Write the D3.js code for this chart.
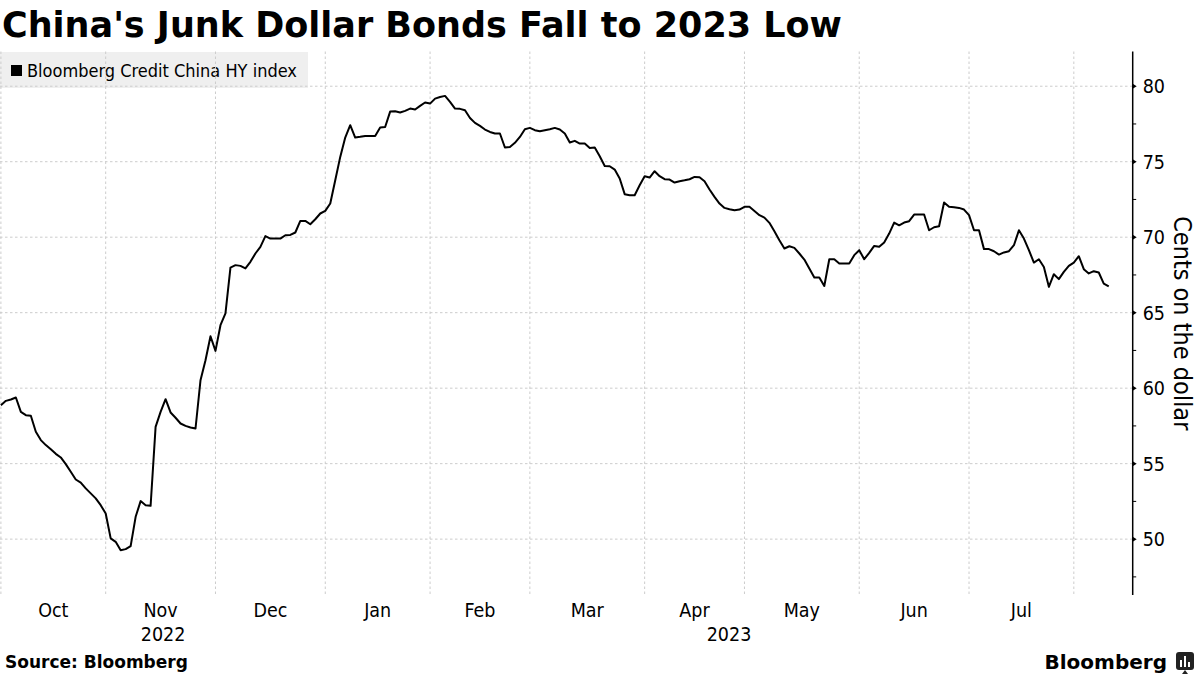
<!DOCTYPE html>
<html>
<head>
<meta charset="utf-8">
<script src="https://cdn.jsdelivr.net/npm/d3@7"></script>
<style>
  body { margin: 0; background: #fff; }
  svg { display: block; }
  text { font-family: "DejaVu Sans Condensed", "DejaVu Sans", sans-serif; fill: #000; }
</style>
</head>
<body>
<svg id="chart" width="1200" height="675"></svg>
<script>
// first trading day shown and days the index did not print
let firstDay = "2022-10-03";
let holidays = ["2023-01-02"];

// Bloomberg Credit China HY index, cents on the dollar, one value per trading day
let oct22 = [58.87, 59.16, 59.25, 59.38, 58.43, 58.21, 58.17, 57.11, 56.56, 56.23, 55.95,
  55.65, 55.41, 54.97, 54.46, 53.95, 53.75, 53.36, 53.03, 52.70, 52.25];
let nov22 = [51.70, 50.05, 49.82, 49.27, 49.34, 49.54, 51.48, 52.52, 52.25, 52.21, 57.44,
  58.43, 59.27, 58.39, 58.04, 57.66, 57.50, 57.40, 57.33, 60.53, 61.85, 63.44];
let dec22 = [62.47, 64.17, 64.95, 67.99, 68.15, 68.10, 67.93, 68.37, 68.92, 69.36, 70.07,
  69.91, 69.91, 69.91, 70.13, 70.15, 70.31, 71.08, 71.08, 70.86, 71.19, 71.57];
let jan23 = [71.74, 72.23, 73.77, 75.32, 76.60, 77.42, 76.60, 76.65, 76.71, 76.71, 76.71,
  77.26, 77.30, 78.32, 78.34, 78.26, 78.37, 78.52, 78.46, 78.70, 78.92];
let feb23 = [78.85, 79.18, 79.29, 79.36, 78.96, 78.52, 78.50, 78.41, 77.90, 77.57, 77.37,
  77.13, 76.97, 76.87, 76.87, 75.94, 75.98, 76.25, 76.64, 77.15];
let mar23 = [77.24, 77.09, 77.02, 77.09, 77.15, 77.24, 77.13, 76.87, 76.27, 76.38, 76.20,
  76.20, 75.91, 75.94, 75.36, 74.72, 74.70, 74.48, 73.89, 72.85, 72.78, 72.78, 73.44];
let apr23 = [74.04, 73.95, 74.37, 74.04, 73.84, 73.82, 73.62, 73.71, 73.77, 73.84, 73.99,
  73.97, 73.71, 73.16, 72.67, 72.23, 71.94, 71.85, 71.79, 71.83];
let may23 = [72.01, 72.01, 71.74, 71.46, 71.30, 70.95, 70.40, 69.80, 69.25, 69.40, 69.29,
  68.92, 68.52, 67.93, 67.33, 67.33, 66.77, 68.54, 68.54, 68.26, 68.26, 68.26, 68.81];
let jun23 = [69.14, 68.54, 68.96, 69.42, 69.36, 69.65, 70.24, 70.97, 70.79, 70.97, 71.06,
  71.50, 71.50, 71.50, 70.46, 70.66, 70.73, 72.30, 72.01, 71.99, 71.94, 71.83];
let jul23 = [71.46, 70.46, 70.46, 69.21, 69.21, 69.07, 68.85, 68.99, 69.07, 69.47, 70.46,
  69.91, 69.14, 68.32, 68.54, 68.03, 66.71, 67.55, 67.22, 67.70, 68.10];
let aug23 = [68.32, 68.74, 67.88, 67.60, 67.75, 67.66, 66.93, 66.75];

let yTicks = [50, 55, 60, 65, 70, 75, 80];
let yMinorTicks = [47.5, 52.5, 57.5, 62.5, 67.5, 72.5, 77.5];
let monthLabels = ["Oct", "Nov", "Dec", "Jan", "Feb", "Mar", "Apr", "May", "Jun", "Jul"];
let yearLabels = ["2022", "2023"];

let titleText = "China's Junk Dollar Bonds Fall to 2023 Low";
let legendText = "Bloomberg Credit China HY index";
let yAxisTitle = "Cents on the dollar";
let sourceText = "Source: Bloomberg";

// ---- trading-day calendar ----
let values = [].concat(oct22, nov22, dec22, jan23, feb23, mar23, apr23, may23, jun23, jul23, aug23);
let parse = d3.utcParse("%Y-%m-%d");
let fmt = d3.utcFormat("%Y-%m-%d");

function tradingDays(startStr, count) {
  let days = [];
  let d = parse(startStr);
  while (days.length < count) {
    let wd = d.getUTCDay();
    if (wd !== 0 && wd !== 6 && holidays.indexOf(fmt(d)) < 0) days.push(new Date(d));
    d = d3.utcDay.offset(d, 1);
  }
  return days;
}

let days = tradingDays(firstDay, values.length + 6);
let series = values.map(function (v, i) { return { i: i, date: days[i], value: v }; });

// first trading day of each month
let monthStarts = [];
days.forEach(function (d, i) {
  if (i === 0 || d.getUTCMonth() !== days[i - 1].getUTCMonth()) monthStarts.push({ i: i, date: d });
});

// ---- layout ----
let svg = d3.select("#chart");
let plotLeft = 0.9, plotRight = 1132.7, plotTop = 51.5, plotBottom = 595;

let x = d3.scaleLinear().domain([0, 226.8]).range([plotLeft, plotRight]);
let y = d3.scaleLinear().domain([46.3, 82.3]).range([plotBottom, plotTop]);

// title
svg.append("text")
  .attr("x", 2)
  .attr("y", 37)
  .style("font-family", "'DejaVu Sans', sans-serif")
  .style("font-weight", "bold")
  .style("font-size", "35px")
  .text(titleText);

// legend box
let legend = svg.append("g");
legend.append("rect")
  .attr("x", 0).attr("y", 52)
  .attr("width", 308).attr("height", 36)
  .style("fill", "#efefef");
legend.append("rect")
  .attr("x", 11).attr("y", 65)
  .attr("width", 11).attr("height", 11)
  .style("fill", "#000");
legend.append("text")
  .attr("x", 27).attr("y", 77)
  .style("font-size", "18px")
  .text(legendText);

// gridlines
let grid = svg.append("g")
  .style("stroke", "#cccccc")
  .style("stroke-width", "1px")
  .style("stroke-dasharray", "2.5,2.5");

grid.selectAll("line.h")
  .data(yTicks)
  .enter()
  .append("line")
  .attr("class", "h")
  .attr("x1", 0)
  .attr("x2", plotRight)
  .attr("y1", function (d) { return y(d); })
  .attr("y2", function (d) { return y(d); });

grid.selectAll("line.v")
  .data(monthStarts.filter(function (m) { return x(m.i) <= plotRight; }))
  .enter()
  .append("line")
  .attr("class", "v")
  .attr("x1", function (d) { return x(d.i); })
  .attr("x2", function (d) { return x(d.i); })
  .attr("y1", plotTop)
  .attr("y2", plotBottom);

// the index line
let line = d3.line()
  .x(function (d) { return x(d.i); })
  .y(function (d) { return y(d.value); });

svg.append("path")
  .datum(series)
  .attr("d", line)
  .style("fill", "none")
  .style("stroke", "#000")
  .style("stroke-width", "2px")
  .style("stroke-linejoin", "round");

// right axis
let axis = svg.append("g");
axis.append("line")
  .attr("x1", plotRight).attr("x2", plotRight)
  .attr("y1", plotTop).attr("y2", plotBottom)
  .style("stroke", "#000")
  .style("stroke-width", "1.5px");

axis.selectAll("path.major")
  .data(yTicks)
  .enter()
  .append("path")
  .attr("class", "major")
  .attr("d", function (d) {
    let yy = y(d);
    return "M" + plotRight + "," + (yy - 2.5) + "L" + (plotRight + 4) + "," + yy + "L" + plotRight + "," + (yy + 2.5) + "Z";
  })
  .style("fill", "#000");

axis.selectAll("line.minor")
  .data(yMinorTicks)
  .enter()
  .append("line")
  .attr("class", "minor")
  .attr("x1", plotRight).attr("x2", plotRight + 3.5)
  .attr("y1", function (d) { return y(d); })
  .attr("y2", function (d) { return y(d); })
  .style("stroke", "#000")
  .style("stroke-width", "1px");

axis.selectAll("text.tick")
  .data(yTicks)
  .enter()
  .append("text")
  .attr("class", "tick")
  .attr("x", plotRight + 10)
  .attr("y", function (d) { return y(d); })
  .attr("dy", "0.36em")
  .style("font-size", "19.5px")
  .text(function (d) { return d; });

svg.append("text")
  .attr("transform", "translate(1174," + ((plotTop + plotBottom) / 2) + ") rotate(90)")
  .attr("text-anchor", "middle")
  .style("font-size", "25px")
  .text(yAxisTitle);

// month labels, centred in each month
let monthSpans = monthStarts.slice(0, monthLabels.length).map(function (m, k) {
  let next = monthStarts[k + 1];
  let x0 = k === 0 ? plotLeft : x(m.i);
  let x1 = next ? Math.min(x(next.i), plotRight) : plotRight;
  return { label: monthLabels[k], cx: (x0 + x1) / 2 };
});

svg.append("g")
  .selectAll("text")
  .data(monthSpans)
  .enter()
  .append("text")
  .attr("x", function (d) { return d.cx; })
  .attr("y", 617)
  .attr("text-anchor", "middle")
  .style("font-size", "19.5px")
  .text(function (d) { return d.label; });

// year labels, centred in the visible part of each year
let jan = monthStarts.find(function (m) { return m.date.getUTCFullYear() === 2023; });
let yearSpans = [
  { label: yearLabels[0], cx: (plotLeft + x(jan.i)) / 2 },
  { label: yearLabels[1], cx: (x(jan.i) + plotRight) / 2 }
];

svg.append("g")
  .selectAll("text")
  .data(yearSpans)
  .enter()
  .append("text")
  .attr("x", function (d) { return d.cx; })
  .attr("y", 641)
  .attr("text-anchor", "middle")
  .style("font-size", "19.5px")
  .text(function (d) { return d.label; });

// footer
svg.append("text")
  .attr("x", 5)
  .attr("y", 668)
  .style("font-family", "'DejaVu Sans', sans-serif")
  .style("font-weight", "bold")
  .style("font-size", "17px")
  .text(sourceText);

let logo = svg.append("g");
logo.append("text")
  .attr("x", 1167)
  .attr("y", 669)
  .attr("text-anchor", "end")
  .style("font-family", "'DejaVu Sans', sans-serif")
  .style("font-weight", "bold")
  .style("font-size", "20px")
  .text("Bloomberg");
logo.append("rect")
  .attr("x", 1176).attr("y", 652)
  .attr("width", 18).attr("height", 18)
  .attr("rx", 3)
  .style("fill", "#222");
logo.append("path")
  .attr("d", "M1185,670 L1182,674 L1188,674 Z")
  .style("fill", "#222");
logo.selectAll("rect.bar")
  .data([[1180, 660, 8], [1184, 656, 12], [1188, 662, 6]])
  .enter()
  .append("rect")
  .attr("class", "bar")
  .attr("x", function (d) { return d[0]; })
  .attr("y", function (d) { return d[1]; })
  .attr("width", 2)
  .attr("height", function (d) { return d[2] - 1; })
  .style("fill", "#fff");
</script>
</body>
</html>
